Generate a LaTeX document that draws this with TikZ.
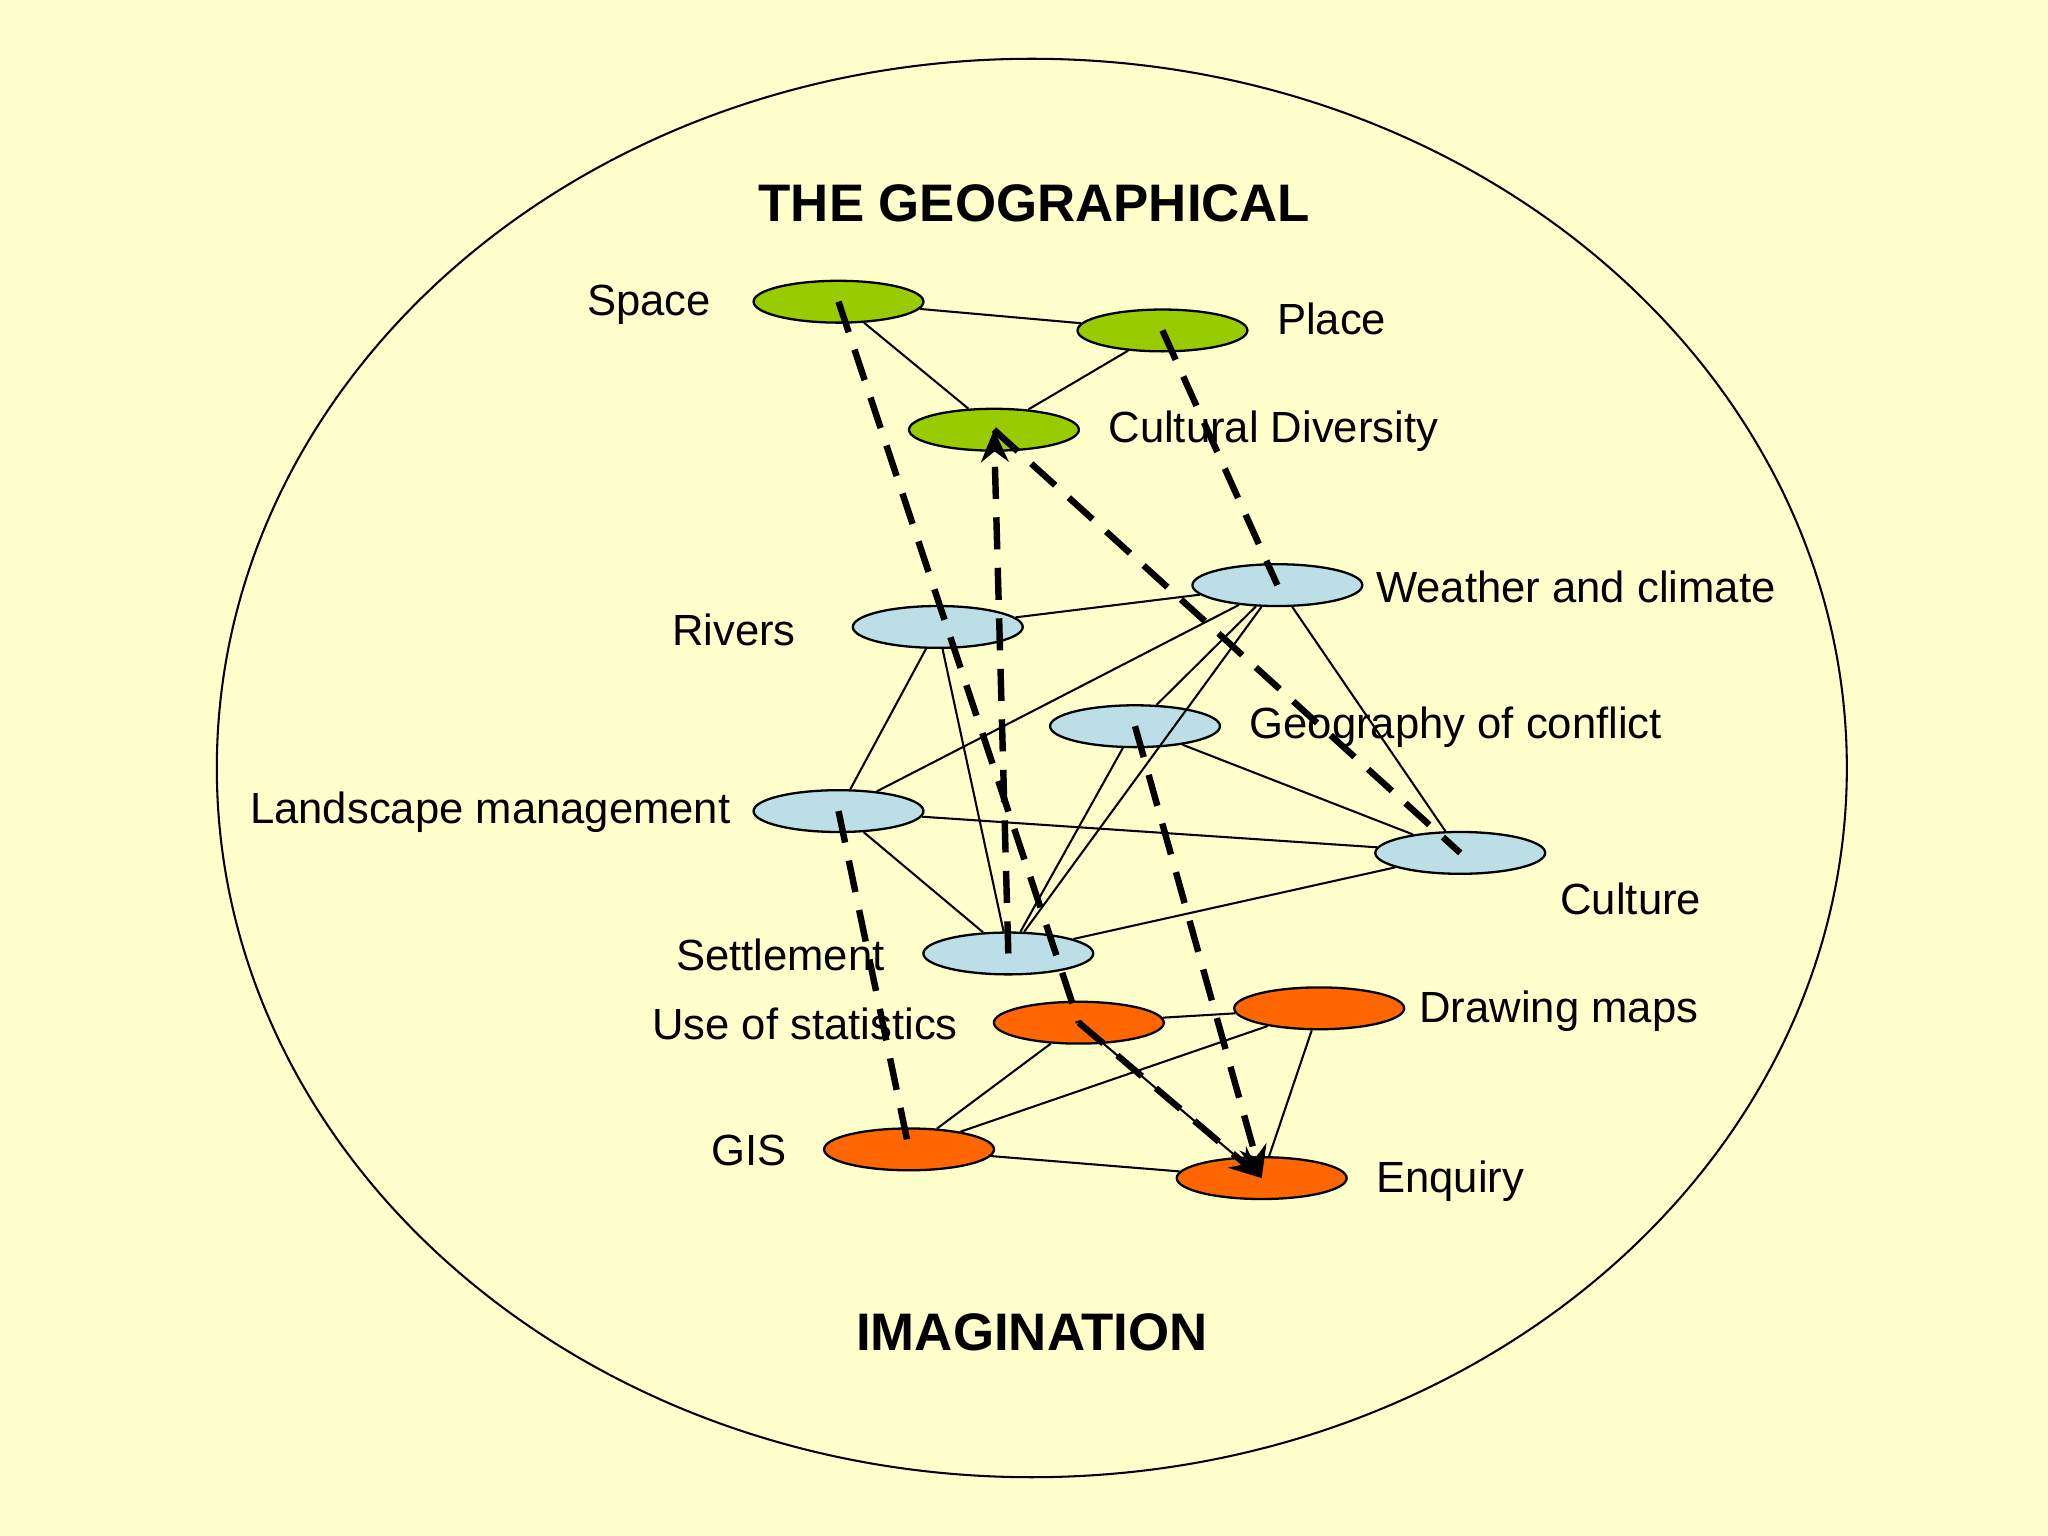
\documentclass[tikz,border=0pt]{standalone}
\usepackage{fontspec}
\setmainfont{Liberation Sans}
\usetikzlibrary{arrows.meta,shapes.geometric}
\definecolor{bgc}{RGB}{255,255,204}
\definecolor{gr}{RGB}{153,204,0}
\definecolor{bl}{RGB}{188,222,230}
\definecolor{or}{RGB}{255,102,0}
\tikzset{
 ov/.style={ellipse,draw=black,line width=0.5pt,minimum width=1.3cm,minimum height=0.32cm,inner sep=0pt},
 gn/.style={ov,fill=gr}, bn/.style={ov,fill=bl}, on/.style={ov,fill=or},
 lbl/.style={font=\fontsize{9.5}{11}\selectfont,inner sep=0pt},
 thin/.style={line width=0.45pt},
 dsh/.style={line width=1.4pt,dash pattern=on 7pt off 4pt},
 tip/.style={-{Stealth[length=7pt,width=6pt]}}
}
\begin{document}
\begin{tikzpicture}[x=0.01cm,y=-0.01cm]
\fill[bgc] (0,0) rectangle (1568,1176);
\useasboundingbox (0,0) rectangle (1568,1176);
\draw[thin] (790,588) ellipse [x radius=624,y radius=543];
\node[font=\bfseries\fontsize{11.5}{13}\selectfont] (t1) at (792,156) {THE GEOGRAPHICAL};
\node[font=\bfseries\fontsize{11.5}{13}\selectfont] (t2) at (790,1020) {IMAGINATION};
\node[gn] (sp) at (642,231) {};
\node[gn] (pl) at (890,253) {};
\node[gn] (cd) at (761,329) {};
\node[bn] (we) at (978,448) {};
\node[bn] (ri) at (718,480) {};
\node[bn] (gc) at (869,556) {};
\node[bn] (lm) at (642,621) {};
\node[bn] (cu) at (1118,653) {};
\node[bn] (se) at (772,730) {};
\node[on] (us) at (826,783) {};
\node[on] (dm) at (1010,772) {};
\node[on] (gi) at (696,880) {};
\node[on] (en) at (966,902) {};
\node[lbl,anchor=east] (lsp) at (545,233) {Space};
\node[lbl,anchor=west] (lpl) at (977,244) {Place};
\node[lbl,anchor=west] (lcd) at (848,330) {Cultural Diversity};
\node[lbl,anchor=west] (lwe) at (1053,449) {Weather and climate};
\node[lbl,anchor=east] (lri) at (610,482) {Rivers};
\node[lbl,anchor=west] (lgc) at (956,557) {Geography of conflict};
\node[lbl,anchor=east] (llm) at (560,622) {Landscape management};
\node[lbl,anchor=west] (lcu) at (1194,688) {Culture};
\node[lbl,anchor=east] (lse) at (678,731) {Settlement};
\node[lbl,anchor=east] (lus) at (734,784) {Use of statistics};
\node[lbl,anchor=west] (ldm) at (1086,774) {Drawing maps};
\node[lbl,anchor=east] (lgi) at (603,881) {GIS};
\node[lbl,anchor=west] (len) at (1053,904) {Enquiry};
\draw[thin] (sp) -- (pl); \draw[thin] (sp) -- (cd); \draw[thin] (pl) -- (cd);
\draw[thin] (ri) -- (we); \draw[thin] (ri) -- (lm); \draw[thin] (ri) -- (se);
\draw[thin] (we) -- (lm); \draw[thin] (we) -- (gc); \draw[thin] (we) -- (se);
\draw[thin] (we) -- (cu); \draw[thin] (gc) -- (cu); \draw[thin] (gc) -- (se);
\draw[thin] (lm) -- (cu); \draw[thin] (lm) -- (se); \draw[thin] (se) -- (cu);
\draw[thin] (us) -- (dm); \draw[thin] (us) -- (gi); \draw[thin] (us) -- (en);
\draw[thin] (dm) -- (gi); \draw[thin] (dm) -- (en); \draw[thin] (gi) -- (en);
\draw[dsh] (sp.center) -- (us.center);
\draw[dsh,tip] (us.center) -- (en.center);
\draw[dsh] (pl.center) -- (we.center);
\draw[dsh] (cd.center) -- (cu.center);
\draw[dsh,tip] (se.center) -- (cd.center);
\draw[dsh,tip] (gc.center) -- (en.center);
\draw[dsh] (lm.center) -- (gi.center);
\end{tikzpicture}
\end{document}
